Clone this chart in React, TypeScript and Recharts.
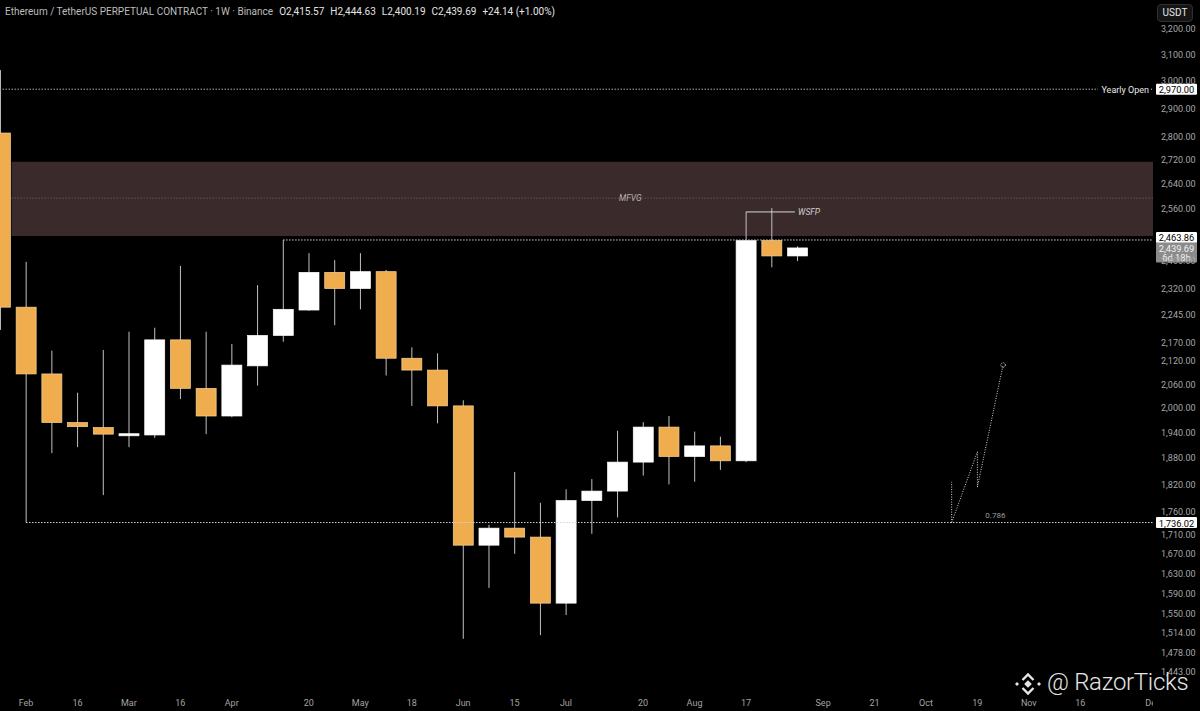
import React from "react";
import {
  ComposedChart, Bar, XAxis, YAxis, ReferenceLine, ReferenceArea, ReferenceDot
} from "recharts";

// weekly candles, ETH/USDT perp
const weekIdx = [0, 1, 2, 3, 4, 5, 6, 7, 8, 9, 10, 11, 12, 13, 14, 15, 16, 17, 18, 19, 20, 21, 22, 23, 24, 25, 26, 27, 28, 29, 30, 31];
const opens = [2813, 2267, 2087, 1965, 1953, 1933, 1935, 2177, 2050, 1981, 2108, 2189, 2259, 2367, 2320, 2369, 2128, 2097, 2006, 1688, 1724, 1705, 1571, 1784, 1805, 1871, 1954, 1884, 1909, 1874, 2462, 2415.57];
const highs = [3041, 2398, 2148, 2039, 2150, 2199, 2210, 2386, 2199, 2166, 2330, 2463.86, 2424, 2403, 2424, 2374, 2157, 2141, 2020, 1731, 1848, 1779, 1809, 1832, 1945, 1966, 1981, 1943, 1931, 2551, 2563, 2444.63];
const lows = [2204, 1736.02, 1892, 1906, 1796, 1906, 1928, 2023, 1937, 1978, 2057, 2172, 2257, 2217, 2261, 2083, 2006, 1963, 1503, 1601, 1670, 1510, 1548, 1712, 1747, 1840, 1820, 1826, 1853, 1871, 2382, 2400.19];
const closes = [2267, 2087, 1965, 1955, 1937, 1938, 2177, 2050, 1981, 2110, 2189, 2261, 2367, 2320, 2369, 2128, 2097, 2006, 1688, 1724, 1705, 1571, 1784, 1805, 1871, 1954, 1884, 1909, 1874, 2462, 2415.57, 2439.69];

const xTicks = [1, 3, 5, 7, 9, 12, 14, 16, 18, 20, 22, 25, 27, 29, 32, 34, 36, 38, 40, 42, 44.83];
const xTickLabels = ["Feb", "16", "Mar", "16", "Apr", "20", "May", "18", "Jun", "15", "Jul", "20", "Aug", "17", "Sep", "21", "Oct", "19", "Nov", "16", "Dec"];
const yTicks = [3200, 3100, 3000, 2900, 2800, 2720, 2640, 2560, 2400, 2320, 2245, 2170, 2120, 2060, 2000, 1940, 1880, 1820, 1760, 1710, 1670, 1630, 1590, 1550, 1514, 1478, 1443];

// levels
const yearlyOpen = 2970;
const swingHigh = 2463.86;
const lastPrice = 2439.69;
const fibLevel = 1736.02;
const mfvgTop = 2715;
const mfvgBottom = 2476;
const mfvgMid = 2595;
const wsfpLevel = 2551;
// dotted projection path: [x index, price]
const projection: [number, number][] = [[37, 1736.02], [38, 1895], [38, 1814], [39, 2110]];
const projectionStem: [number, number][] = [[37, 1736.02], [37, 1826]];

const X_MIN = -0.0117;
const X_MAX = 44.83;
const Y_MIN = 1410.7;
const Y_MAX = 3317.1;

const data = weekIdx.map((i) => ({
  i,
  open: opens[i],
  high: highs[i],
  low: lows[i],
  close: closes[i],
  range: [lows[i], highs[i]],
}));

const fmt = (v: number) => v.toLocaleString("en-US", { minimumFractionDigits: 2, maximumFractionDigits: 2 });

function Candle(props: any) {
  const { x, y, width, height, payload } = props;
  if (!payload || !isFinite(y) || !isFinite(height)) return null;
  const cx = x + width / 2;
  const lh = Math.log(payload.high);
  const ll = Math.log(payload.low);
  const py = (v: number) => y + (height * (lh - Math.log(v))) / (lh - ll || 1);
  const up = payload.close >= payload.open;
  const top = py(Math.max(payload.open, payload.close));
  const bot = py(Math.min(payload.open, payload.close));
  const bw = 20;
  return (
    <g>
      <line x1={cx} x2={cx} y1={y} y2={y + height} stroke="#c2c2c2" strokeWidth={1} />
      <rect
        x={cx - bw / 2}
        y={top}
        width={bw}
        height={Math.max(1.2, bot - top)}
        fill={up ? "#ffffff" : "#f0ad4e"}
        stroke={up ? "#ffffff" : "#f6d39a"}
        strokeWidth={0.7}
      />
    </g>
  );
}

function PriceTag({ viewBox, text, sub, bg = "#ffffff", fg = "#000000", dy = 0, caption }: any) {
  const x = viewBox.x + viewBox.width + 3;
  const y = viewBox.y + dy;
  const h = sub ? 20 : 11;
  return (
    <g>
      {caption && (
        <g>
          <rect x={viewBox.x + viewBox.width - 55} y={y - 6} width={55} height={12} fill="#000000" />
          <text x={viewBox.x + viewBox.width - 4} y={y + 0.5} textAnchor="end" dominantBaseline="central" fill="#e8e8e8" fontSize={9}>
            {caption}
          </text>
          <circle cx={viewBox.x + viewBox.width - 1.5} cy={y} r={0.6} fill="#bdbdbd" />
        </g>
      )}
      <rect x={x} y={y - 5.5} width={41} height={h} fill={bg} rx={1} />
      <text x={x + 20.5} y={y + 0.5} textAnchor="middle" dominantBaseline="central" fill={fg} fontSize={9.3}>
        {text}
      </text>
      {sub && (
        <text x={x + 20.5} y={y + 9.5} textAnchor="middle" dominantBaseline="central" fill={fg} fontSize={9.3}>
          {sub}
        </text>
      )}
    </g>
  );
}

function Note({ viewBox, text, dx = 0, dy = 0, anchor = "middle", fill = "#bdbdbd", size = 9, italic = false }: any) {
  const cx = viewBox.x + viewBox.width / 2;
  const cy = viewBox.y + viewBox.height / 2;
  return (
    <text x={cx + dx} y={cy + dy} textAnchor={anchor} dominantBaseline="central" fill={fill} fontSize={size} fontStyle={italic ? "italic" : "normal"}>
      {text}
    </text>
  );
}

function MonthTick({ x, y, payload }: any) {
  const k = xTicks.indexOf(payload.value);
  return (
    <text x={x} y={y + 8} textAnchor="middle" fill="#a3a3a3" fontSize={9} clipPath="url(#plotClip)">
      {k >= 0 ? xTickLabels[k] : ""}
    </text>
  );
}

function BinanceLogo() {
  return (
    <svg width={30} height={24} viewBox="0 0 30 24" style={{ position: "absolute", left: 1013, top: 672 }}>
      <g fill="#e6e6e6">
        <rect x={12.3} y={9.3} width={5.4} height={5.4} transform="rotate(45 15 12)" />
        <rect x={2.6} y={10.6} width={2.8} height={2.8} transform="rotate(45 4 12)" />
        <rect x={24.6} y={10.6} width={2.8} height={2.8} transform="rotate(45 26 12)" />
      </g>
      <g fill="none" stroke="#e6e6e6" strokeWidth={2.4}>
        <polyline points="9.5,8 15,2.5 20.5,8" />
        <polyline points="9.5,16 15,21.5 20.5,16" />
      </g>
    </svg>
  );
}

export default function App() {
  const line = "#d4d4d4";
  return (
    <div style={{ position: "absolute", left: 0, top: 0, width: 1200, height: 711, background: "#000000", overflow: "hidden", fontFamily: "Roboto, sans-serif" }}>
      <ComposedChart width={1200} height={711} data={data} margin={{ top: 0, right: 0, bottom: 0, left: 0 }} style={{ fontFamily: "Roboto, sans-serif" }}>
        <defs>
          <clipPath id="plotClip">
            <rect x={0} y={0} width={1153} height={711} />
          </clipPath>
        </defs>
        <XAxis
          type="number"
          dataKey="i"
          domain={[X_MIN, X_MAX]}
          allowDataOverflow
          ticks={xTicks}
          interval={0}
          height={21}
          tickLine={false}
          axisLine={false}
          tick={<MonthTick />}
        />
        <YAxis
          orientation="right"
          scale="log"
          domain={[Y_MIN, Y_MAX]}
          allowDataOverflow
          ticks={yTicks}
          interval={0}
          width={47}
          tickLine={false}
          axisLine={false}
          tickFormatter={fmt}
          tick={{ fill: "#a6a6a6", fontSize: 9 }}
        />

        <ReferenceArea x1={0.44} x2={X_MAX} y1={mfvgBottom} y2={mfvgTop} fill="#3a2a2c" fillOpacity={1} stroke="none" />
        <ReferenceLine segment={[{ x: 0.44, y: mfvgMid }, { x: X_MAX, y: mfvgMid }]} stroke="#7a6a6c" strokeDasharray="1 2" />
        <ReferenceDot x={24.5} y={mfvgMid} r={1} fill="transparent" stroke="none" label={<Note text="MFVG" italic size={8.5} fill="#b9b0b1" />} />

        <ReferenceLine y={yearlyOpen} stroke="#a8a8a8" strokeDasharray="1.5 1.5" label={<PriceTag text={fmt(yearlyOpen)} caption="Yearly Open" />} />
        <ReferenceLine segment={[{ x: 11, y: swingHigh }, { x: X_MAX, y: swingHigh }]} stroke={line} strokeDasharray="1.5 1.5" />
        <ReferenceLine segment={[{ x: 1, y: fibLevel }, { x: X_MAX, y: fibLevel }]} stroke={line} strokeDasharray="1.5 1.5" />
        <ReferenceDot x={38.7} y={fibLevel} r={1} fill="transparent" stroke="none" label={<Note text="0.786" size={8} fill="#9e9e9e" dy={-7} />} />

        <ReferenceLine segment={[{ x: 29, y: wsfpLevel }, { x: 30.9, y: wsfpLevel }]} stroke="#d8d8d8" strokeWidth={1} />
        <ReferenceDot x={30.95} y={wsfpLevel} r={1} fill="transparent" stroke="none" label={<Note text="WSFP" italic size={8.5} anchor="start" fill="#d0d0d0" dx={2} />} />

        <ReferenceLine segment={[{ x: projectionStem[0][0], y: projectionStem[0][1] }, { x: projectionStem[1][0], y: projectionStem[1][1] }]} stroke={line} strokeDasharray="1 1.5" />
        {projection.slice(1).map((p, k) => (
          <ReferenceLine
            key={`proj-${k}`}
            segment={[{ x: projection[k][0], y: projection[k][1] }, { x: p[0], y: p[1] }]}
            stroke={line}
            strokeDasharray="1 1.5"
          />
        ))}
        <ReferenceDot x={projection[3][0]} y={projection[3][1]} r={2.3} fill="none" stroke={line} strokeDasharray="1 1" />

        <Bar dataKey="range" barSize={20} isAnimationActive={false} shape={(p: any) => <Candle {...p} />} />

        <ReferenceLine y={swingHigh} stroke="none" label={<PriceTag text={fmt(swingHigh)} dy={-2.5} />} />
        <ReferenceLine y={lastPrice} stroke="none" label={<PriceTag text={fmt(lastPrice)} sub="6d 18h" bg="#8b8b8b" fg="#f2f2f2" />} />
        <ReferenceLine y={fibLevel} stroke="none" label={<PriceTag text={fmt(fibLevel)} />} />
      </ComposedChart>

      <div style={{ position: "absolute", left: 5, top: 6, fontSize: 10, color: "#bdbdbd", whiteSpace: "nowrap", letterSpacing: 0 }}>
        Ethereum / TetherUS PERPETUAL CONTRACT · 1W · Binance
        <span style={{ color: "#e4e4e4", marginLeft: 6 }}>O2,415.57</span>
        <span style={{ color: "#e4e4e4", marginLeft: 6 }}>H2,444.63</span>
        <span style={{ color: "#e4e4e4", marginLeft: 6 }}>L2,400.19</span>
        <span style={{ color: "#e4e4e4", marginLeft: 6 }}>C2,439.69</span>
        <span style={{ color: "#e4e4e4", marginLeft: 6 }}>+24.14 (+1.00%)</span>
      </div>
      <div style={{ position: "absolute", left: 1157, top: 4, width: 36, height: 18, boxSizing: "border-box", border: "1px solid #2e2e2e", borderRadius: 4, background: "#151515", color: "#e6e6e6", fontSize: 10, lineHeight: "16px", textAlign: "center" }}>
        USDT
      </div>
      <BinanceLogo />
      <div style={{ position: "absolute", left: 1047, top: 668, fontSize: 24, fontWeight: 300, color: "#e6e6e6", whiteSpace: "nowrap", letterSpacing: -0.3 }}>
        @ RazorTicks
      </div>
    </div>
  );
}
